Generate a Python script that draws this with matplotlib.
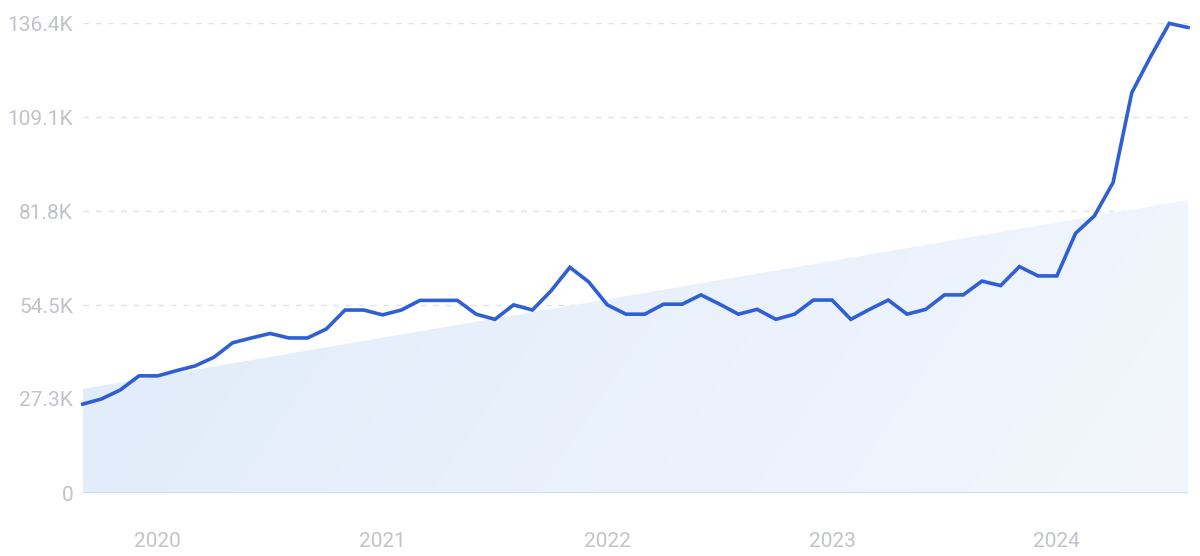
import numpy as np
import matplotlib.pyplot as plt
from matplotlib.patches import Polygon
from matplotlib.colors import LinearSegmentedColormap

# monthly values, Sep 2019 .. Aug 2024 (thousands)
values = [25.8, 27.3, 29.9, 34.0, 34.0, 35.5, 36.9, 39.4, 43.6, 45.0,
          46.3, 45.0, 45.0, 47.6, 53.1, 53.1, 51.7, 53.1, 55.9, 55.9,
          55.9, 51.9, 50.4, 54.6, 53.1, 58.7, 65.5, 61.3, 54.6, 51.9,
          51.9, 54.8, 54.8, 57.5, 54.8, 51.9, 53.3, 50.4, 51.9, 56.0,
          56.0, 50.4, 53.3, 56.0, 51.9, 53.3, 57.5, 57.5, 61.5, 60.2,
          65.7, 63.0, 63.0, 75.4, 80.4, 90.1, 116.2, 126.6, 136.3, 135.1]
trend_start = 30.2
trend_end = 85.0

year_labels = ['2020', '2021', '2022', '2023', '2024']
year_pos = [4, 16, 28, 40, 52]
ytick_vals = [0, 27.3, 54.5, 81.8, 109.1, 136.4]
ytick_labels = ['0', '27.3K', '54.5K', '81.8K', '109.1K', '136.4K']

plt.rcParams['font.family'] = ['Roboto', 'DejaVu Sans']

fig = plt.figure(figsize=(12, 5.56), dpi=100)
ax = fig.add_axes([0.069, 0.1133, 0.921, 0.8453])

x = np.arange(len(values))
n = len(values) - 1

# trend area with soft gradient
poly = Polygon([(0, 0), (0, trend_start), (n, trend_end), (n, 0)],
               closed=True, facecolor='none', edgecolor='none')
ax.add_patch(poly)
cmap = LinearSegmentedColormap.from_list('g', ['#e0ebfa', '#f3f7fd'])
gx, gy = np.meshgrid(np.linspace(0, 1, 200), np.linspace(0, 1, 100))
grad = 0.85 * gx + 0.15 * gy
im = ax.imshow(grad, cmap=cmap, extent=[0, n, 0, trend_end], origin='upper',
               aspect='auto', zorder=1)
im.set_clip_path(poly)

ax.plot(x, values, color='#2f5fd6', linewidth=2.6, zorder=3,
        solid_joinstyle='miter', clip_on=False)

ax.set_xlim(0, n)
ax.set_ylim(0, 136.4)

ax.set_yticks(ytick_vals)
ax.set_yticklabels(ytick_labels)
ax.set_xticks(year_pos)
ax.set_xticklabels(year_labels)

for v in ytick_vals[1:]:
    ax.axhline(v, color='#dbe3ef', linewidth=1, linestyle=(0, (4, 5)), zorder=0)
ax.axhline(0, color='#c4d8f2', linewidth=1.2, zorder=2)

for s in ax.spines.values():
    s.set_visible(False)
ax.tick_params(axis='both', length=0, colors='#c0c3ca', labelsize=15)
ax.tick_params(axis='y', pad=7)
ax.tick_params(axis='x', pad=28)

fig.savefig('out.png', dpi=100, facecolor='white')
